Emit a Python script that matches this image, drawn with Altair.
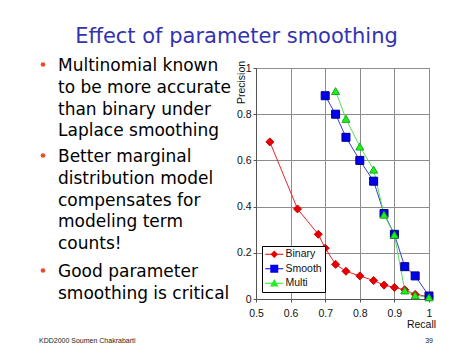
import altair as alt
import pandas as pd

# ---- data ----
series_names = ["Binary", "Smooth", "Multi"]

binary_recall = [0.54, 0.62, 0.68, 0.70, 0.73, 0.76, 0.80, 0.84, 0.87, 0.90, 0.93, 0.96, 1.00]
binary_prec = [0.68, 0.39, 0.28, 0.22, 0.15, 0.12, 0.10, 0.08, 0.06, 0.05, 0.04, 0.02, 0.01]

smooth_recall = [0.70, 0.73, 0.76, 0.80, 0.84, 0.87, 0.90, 0.93, 0.96, 1.00]
smooth_prec = [0.88, 0.80, 0.70, 0.60, 0.51, 0.37, 0.28, 0.14, 0.10, 0.013]

multi_recall = [0.73, 0.76, 0.80, 0.84, 0.87, 0.90, 0.93, 0.96, 1.00]
multi_prec = [0.90, 0.78, 0.66, 0.56, 0.365, 0.278, 0.037, 0.016, 0.007]

x_ticks = [0.5, 0.6, 0.7, 0.8, 0.9, 1.0]
y_ticks = [0, 0.2, 0.4, 0.6, 0.8, 1.0]

title_text = "Effect of parameter smoothing"
bullets = [
    "Multinomial known\nto be more accurate\nthan binary under\nLaplace smoothing",
    "Better marginal\ndistribution model\ncompensates for\nmodeling term\ncounts!",
    "Good parameter\nsmoothing is critical",
]
footer_left = "KDD2000 Soumen Chakrabarti"
footer_right = "39"

# ---- build table ----
rows = []
for name, xs, ys in [("Binary", binary_recall, binary_prec),
                     ("Smooth", smooth_recall, smooth_prec),
                     ("Multi", multi_recall, multi_prec)]:
    for i, (a, b) in enumerate(zip(xs, ys)):
        rows.append({"series": name, "recall": a, "precision": b, "order": i})
df = pd.DataFrame(rows)

FONT = "DejaVu Sans"
SMALL = "Liberation Sans"

line_colors = ["#e8232a", "#3a3ad8", "#55dd55"]
fill_colors = ["#e80000", "#0000f0", "#22ee22"]
stroke_colors = ["#d00000", "#00007a", "#11aa11"]

x_axis = alt.Axis(values=x_ticks, format="~g", title="Recall",
                  grid=True, gridColor="#8c8c8c", gridWidth=1,
                  domainColor="#555555", tickColor="#555555", tickSize=3,
                  labelFont=SMALL, labelFontSize=10.5, labelColor="#111111",
                  labelPadding=6, labelOverlap=False,
                  titleFont=SMALL, titleFontSize=10.5,
                  titleFontWeight="normal", titleColor="#111111",
                  titleX=165, titleY=28, titleBaseline="alphabetic",
                  titleAlign="center", labelFlush=False)
y_axis = alt.Axis(values=y_ticks, format="~g", title="Precision",
                  grid=True, gridColor="#8c8c8c", gridWidth=1,
                  domainColor="#555555", tickColor="#555555", tickSize=3,
                  labelFont=SMALL, labelFontSize=10.5, labelColor="#111111",
                  labelPadding=2, labelOverlap=False,
                  titleFont=SMALL, titleFontSize=10.5,
                  titleFontWeight="normal", titleColor="#111111",
                  titleX=-10, titleY=14, titleAlign="center",
                  titleBaseline="bottom", labelFlush=False)

x_scale = alt.Scale(domain=[0.5, 1.0], nice=False, zero=False)
y_scale = alt.Scale(domain=[0, 1.0], nice=False)


def xe():
    return alt.X("recall:Q", scale=x_scale, axis=x_axis)


def ye():
    return alt.Y("precision:Q", scale=y_scale, axis=y_axis)


lines = alt.Chart(df).mark_line(strokeWidth=1).encode(
    x=xe(), y=ye(),
    color=alt.Color("series:N", scale=alt.Scale(domain=series_names, range=line_colors), legend=None),
    order="order:Q",
)

points = alt.Chart(df).mark_point(filled=True, opacity=1, strokeWidth=1).encode(
    x=xe(), y=ye(),
    color=alt.Color("series:N", scale=alt.Scale(domain=series_names, range=fill_colors), legend=None),
    stroke=alt.Stroke("series:N", scale=alt.Scale(domain=series_names, range=stroke_colors), legend=None),
    shape=alt.Shape("series:N", scale=alt.Scale(domain=series_names,
                    range=["diamond", "square", "triangle-up"]), legend=None),
    size=alt.Size("series:N", scale=alt.Scale(domain=series_names, range=[64, 64, 80]), legend=None),
)

# legend glyphs: a short line with the marker on it (unit = 5 px)
legend_paths = [
    "M-1.8,-0.1L1.8,-0.1L1.8,0.1L-1.8,0.1ZM-0.75,0L0,-0.75L0.75,0L0,0.75Z",
    "M-1.8,-0.1L1.8,-0.1L1.8,0.1L-1.8,0.1ZM-0.8,-0.8L0.8,-0.8L0.8,0.8L-0.8,0.8Z",
    "M-1.8,-0.1L1.8,-0.1L1.8,0.1L-1.8,0.1ZM0,-0.85L0.85,0.65L-0.85,0.65Z",
]

legend_layer = alt.Chart(df).transform_filter("false").mark_point(
    filled=True, opacity=1, strokeWidth=0).encode(
    x=xe(), y=ye(),
    color=alt.Color("series:N", scale=alt.Scale(domain=series_names, range=fill_colors),
                    legend=alt.Legend(title=None, orient="none", legendX=6, legendY=178,
                                      fillColor="white", strokeColor="#000000",
                                      padding=3, rowPadding=3.5, labelOffset=6,
                                      symbolOffset=4,
                                      labelFont=SMALL, labelFontSize=10.5, labelColor="#111111",
                                      symbolSize=100, symbolStrokeWidth=0)),
    shape=alt.Shape("series:N", scale=alt.Scale(domain=series_names, range=legend_paths),
                    legend=alt.Legend(title=None)),
)

title_mark = alt.Chart(alt.Data(values=[{"t": title_text}])).mark_text(
    font=FONT, fontSize=21, color="#3333b0", align="center", baseline="alphabetic"
).encode(text="t:N", x=alt.value(-19.5), y=alt.value(-25))

bullet_y = [71, 162, 277]
text_layers = []
for txt, by in zip(bullets, bullet_y):
    text_layers.append(
        alt.Chart(alt.Data(values=[{"t": txt}])).mark_text(
            font=FONT, fontSize=17, color="#000000", align="left", baseline="alphabetic",
            lineBreak="\n", lineHeight=21.8
        ).encode(text="t:N", x=alt.value(-198), y=alt.value(by - 68))
    )
    text_layers.append(
        alt.Chart(alt.Data(values=[{"t": "•"}])).mark_point(
            shape="circle", filled=True, size=22, color="#e3502b", opacity=1
        ).encode(x=alt.value(-213), y=alt.value(by - 68 - 6.5))
    )

footer_l = alt.Chart(alt.Data(values=[{"t": footer_left}])).mark_text(
    font=SMALL, fontSize=7, color="#222222", align="left", baseline="alphabetic"
).encode(text="t:N", x=alt.value(39 - 256), y=alt.value(343 - 68))
footer_r = alt.Chart(alt.Data(values=[{"t": footer_right}])).mark_text(
    font=SMALL, fontSize=7, color="#222222", align="right", baseline="alphabetic"
).encode(text="t:N", x=alt.value(433 - 256), y=alt.value(343 - 68))

chart = alt.layer(
    lines, points, legend_layer, title_mark, *text_layers, footer_l, footer_r
).resolve_scale(
    color="independent", shape="independent",
    stroke="independent", size="independent"
).properties(
    width=173, height=231,
    autosize=alt.AutoSizeParams(type="none"),
    padding={"left": 256, "top": 68, "right": 45, "bottom": 56},
    background="white",
).configure_view(stroke="#8c8c8c").configure_axis(labelOverlap=False)

chart.save("out.html", embed_options={"renderer": "svg", "actions": False})
